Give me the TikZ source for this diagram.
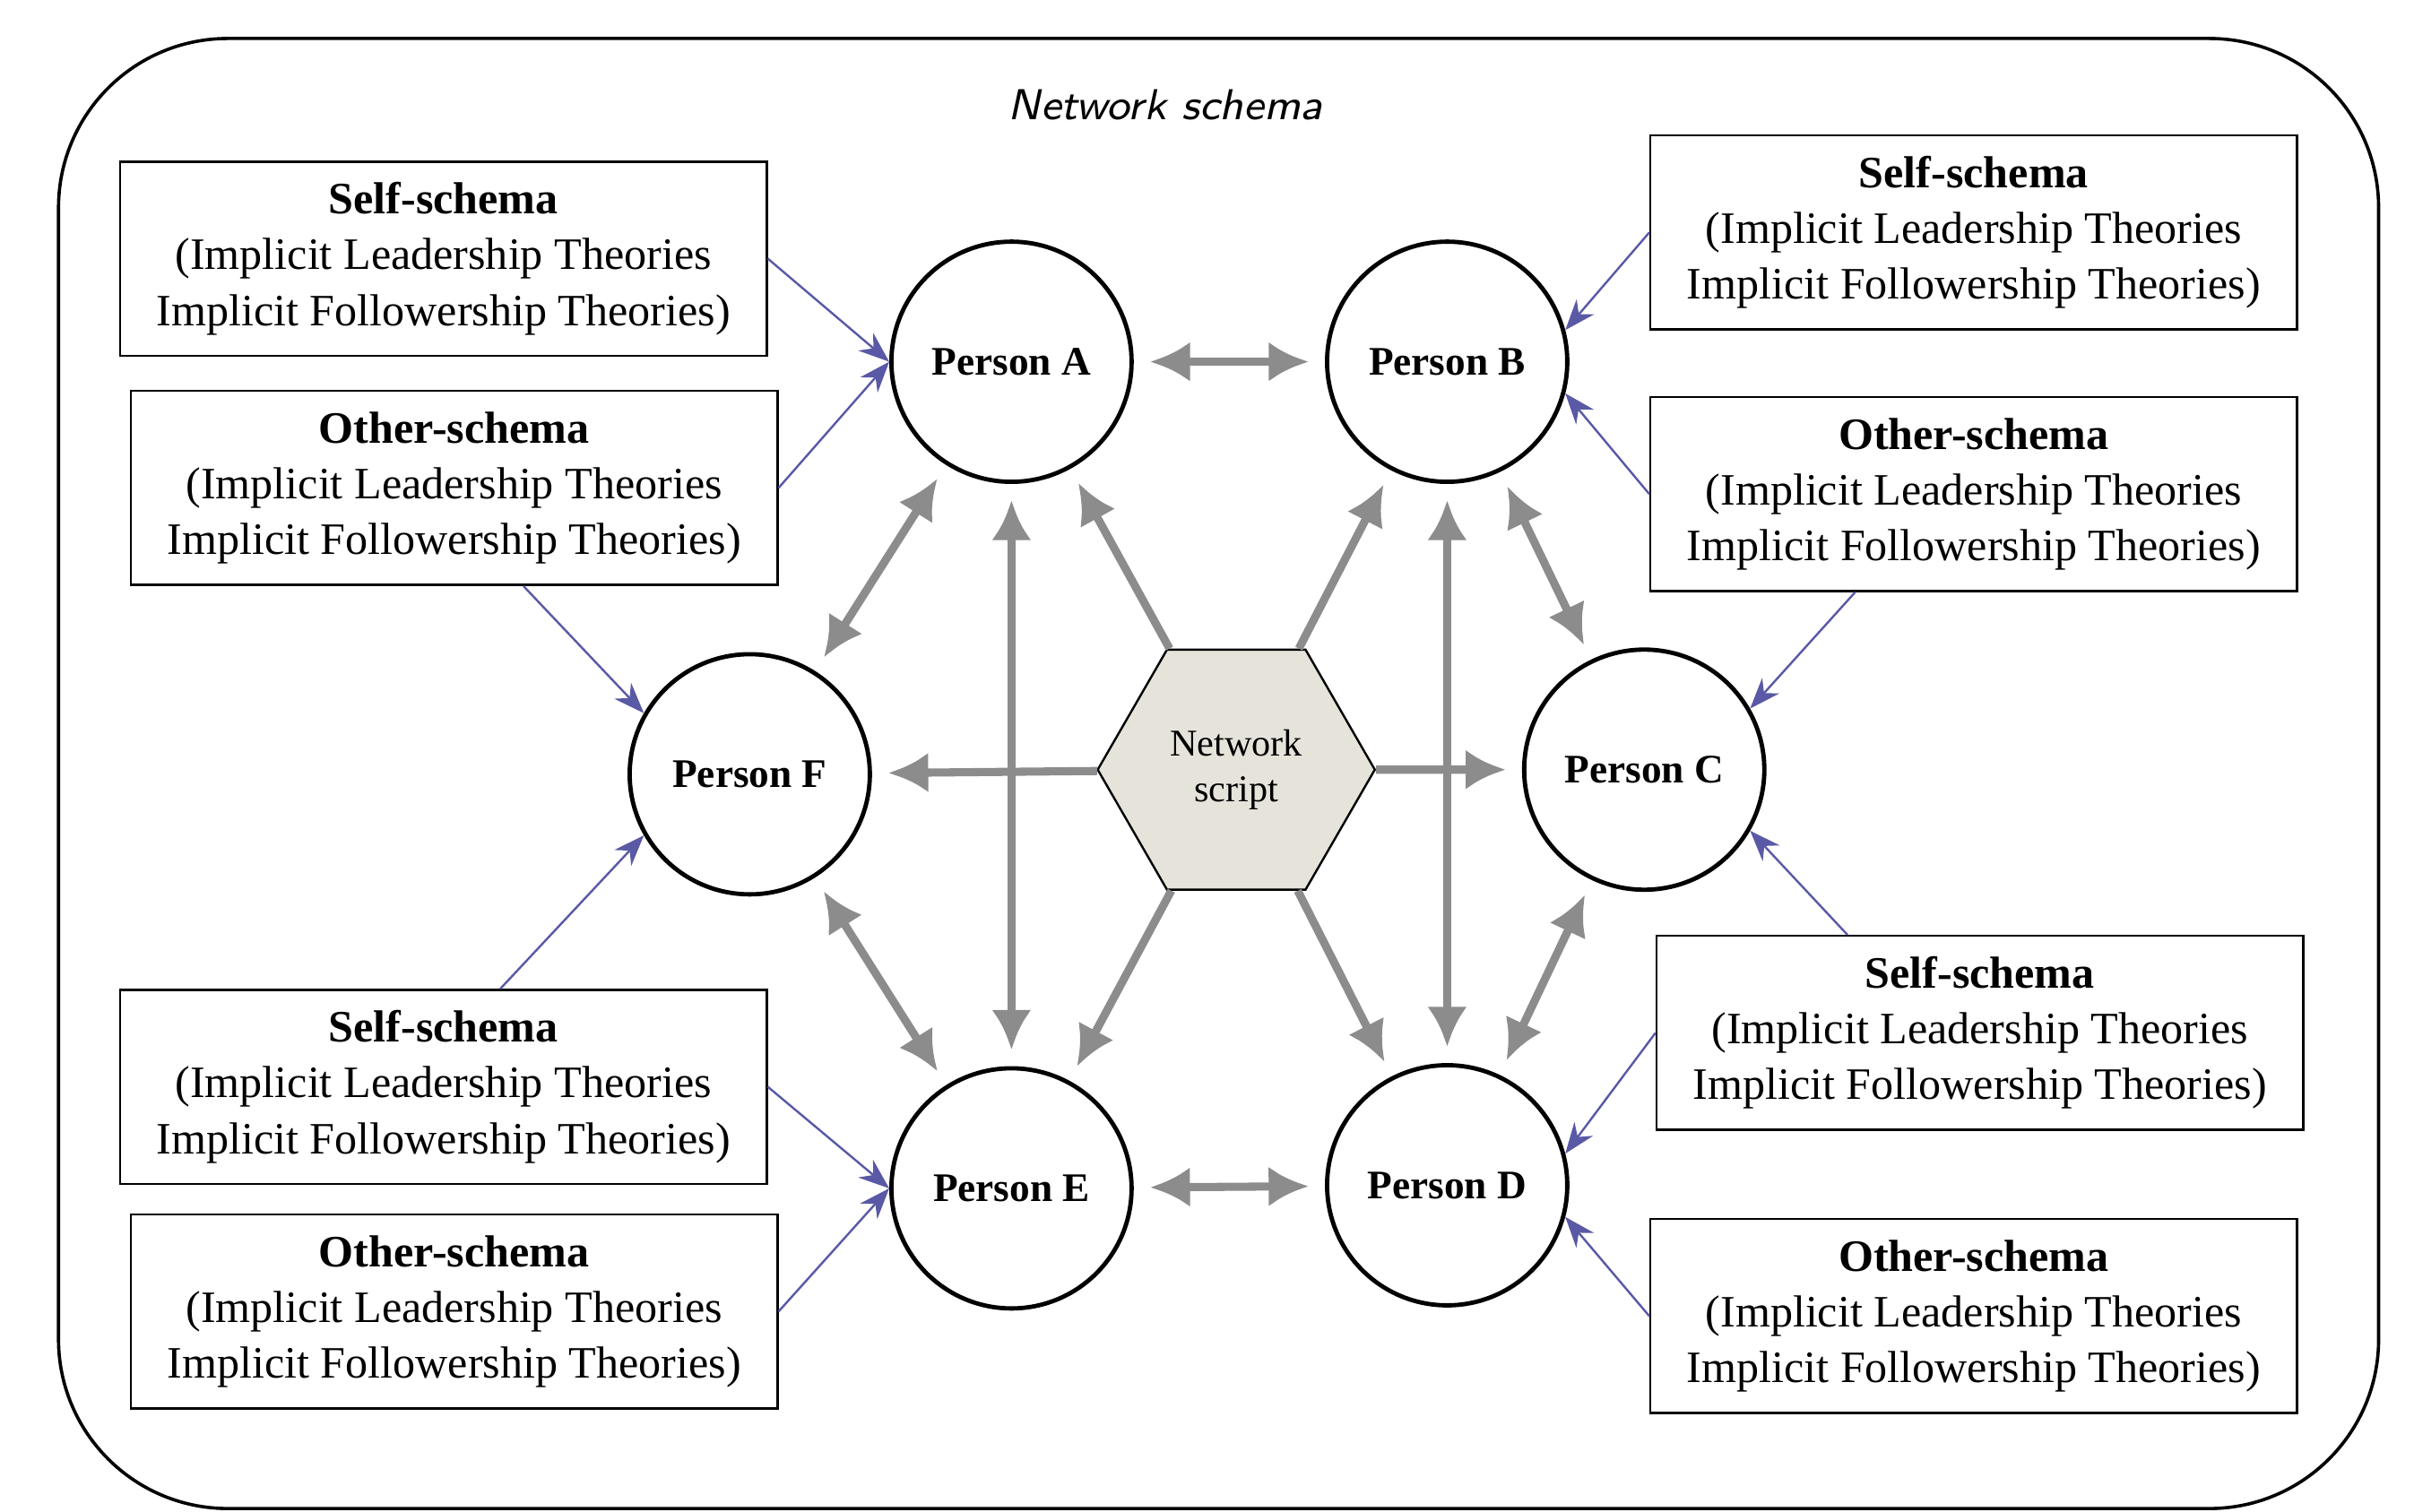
\documentclass[tikz,border=0pt]{standalone}
\usepackage{fontspec}
\setmainfont{Liberation Serif}
\usetikzlibrary{shapes.geometric,arrows.meta}
\begin{document}
\begin{tikzpicture}[thick,
		person/.style = {draw, circle, minimum size=1.56cm, inner sep=0pt, font=\fontsize{7.5}{9}\selectfont\bfseries},
		schema/.style = {draw, thin, align=center, minimum width=4.2cm, minimum height=1.26cm, inner sep=1pt, font=\fontsize{8.3}{10.3}\selectfont},
		link/.style = {gray!90, line width=1.5pt, {Latex[length=2.6mm,width=2.6mm]}-{Latex[length=2.6mm,width=2.6mm]}, shorten <=3pt, shorten >=3pt},
		scriptlink/.style = {gray!90, line width=1.5pt, -{Latex[length=2.6mm,width=2.6mm]}, shorten >=3pt},
		feed/.style = {blue!30!gray, thin, -{Stealth[length=2mm]}}]
		
		\useasboundingbox (0,0) rectangle (15.68,-9.82);
		\draw[semithick, rounded corners=1.1cm] (0.38,-0.25) rectangle (15.45,-9.8);
		\node[font=\fontsize{8}{10}\selectfont\sffamily\itshape] (title) at (7.57,-0.68) {Network schema};
		
		\node[person] (A) at (6.57,-2.35) {Person A};
		\node[person] (B) at (9.40,-2.35) {Person B};
		\node[person] (C) at (10.68,-5.00) {Person C};
		\node[person] (D) at (9.40,-7.70) {Person D};
		\node[person] (E) at (6.57,-7.72) {Person E};
		\node[person] (F) at (4.87,-5.03) {Person F};
		
		\node[draw, thin, regular polygon, regular polygon sides=6, minimum size=1.8cm, inner sep=0pt, fill={rgb,255:red,230;green,228;blue,218}, align=center, font=\fontsize{7}{8.5}\selectfont] (H) at (8.03,-5.00) {Network\\script};
		
		\node[schema] (ls1) at (2.88,-1.68) {\textbf{Self-schema}\\(Implicit Leadership Theories\\Implicit Followership Theories)};
		\node[schema] (lo1) at (2.95,-3.17) {\textbf{Other-schema}\\(Implicit Leadership Theories\\Implicit Followership Theories)};
		\node[schema] (ls2) at (2.88,-7.06) {\textbf{Self-schema}\\(Implicit Leadership Theories\\Implicit Followership Theories)};
		\node[schema] (lo2) at (2.95,-8.52) {\textbf{Other-schema}\\(Implicit Leadership Theories\\Implicit Followership Theories)};
		\node[schema] (rs1) at (12.82,-1.51) {\textbf{Self-schema}\\(Implicit Leadership Theories\\Implicit Followership Theories)};
		\node[schema] (ro1) at (12.82,-3.21) {\textbf{Other-schema}\\(Implicit Leadership Theories\\Implicit Followership Theories)};
		\node[schema] (rs2) at (12.86,-6.71) {\textbf{Self-schema}\\(Implicit Leadership Theories\\Implicit Followership Theories)};
		\node[schema] (ro2) at (12.82,-8.55) {\textbf{Other-schema}\\(Implicit Leadership Theories\\Implicit Followership Theories)};
		
		\draw[link] (A) -- (B);
		\draw[link] (E) -- (D);
		\draw[link] (A) -- (F);
		\draw[link] (F) -- (E);
		\draw[link] (B) -- (C);
		\draw[link] (C) -- (D);
		\draw[link] (A) -- (E);
		\draw[link] (B) -- (D);
		
		\foreach \p in {A,B,C,D,E,F}
			\draw[scriptlink] (H) -- (\p);
		
		\draw[feed] (ls1.east) -- (A.west);
		\draw[feed] (lo1.east) -- (A.west);
		\draw[feed] ([xshift=4.5mm]lo1.south) -- (F.150);
		\draw[feed] ([xshift=3.7mm]ls2.north) -- (F.210);
		\draw[feed] (ls2.east) -- (E.west);
		\draw[feed] (lo2.east) -- (E.west);
		\draw[feed] (rs1.west) -- (B.15);
		\draw[feed] (ro1.west) -- (B.-15);
		\draw[feed] ([xshift=-7.7mm]ro1.south) -- (C.30);
		\draw[feed] ([xshift=-8.6mm]rs2.north) -- (C.-30);
		\draw[feed] (rs2.west) -- (D.15);
		\draw[feed] (ro2.west) -- (D.-15);
		
	\end{tikzpicture}
\end{document}
